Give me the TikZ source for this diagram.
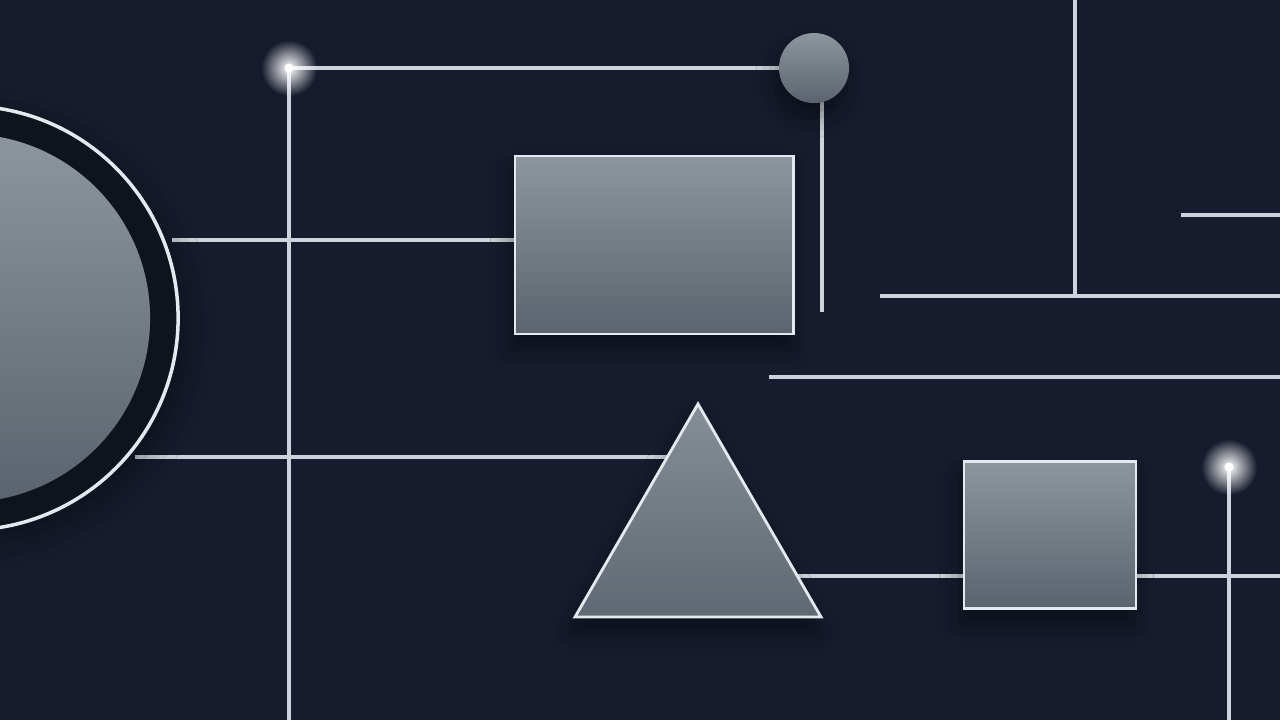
\documentclass[tikz,border=0pt]{standalone}
\usetikzlibrary{shapes.geometric, shadows.blur, fadings}
\definecolor{bgNavy}{HTML}{161C2D}
\definecolor{ringDark}{HTML}{0F131C}
\definecolor{lineGrey}{HTML}{CDD3DC}
\definecolor{shapeTop}{HTML}{8D959E}
\definecolor{shapeBot}{HTML}{5B646E}
\definecolor{edgeLight}{HTML}{E4E9EF}
\tikzfading[name=glowfade, inner color=transparent!0, outer color=transparent!100]
\tikzstyle{wire} = [draw=lineGrey, line width=1.1pt]
\tikzstyle{mPlate} = [draw=edgeLight, line width=0.8pt, top color=shapeTop, bottom color=shapeBot, inner sep=0pt, outer sep=0pt,
  blur shadow={shadow xshift=-1pt, shadow yshift=-4pt, shadow blur radius=6pt, shadow opacity=45}]
\tikzstyle{mGlow} = [white, path fading=glowfade]

\begin{document}
\begin{tikzpicture}[x=0.01cm, y=-0.01cm]
        \useasboundingbox (0,0) rectangle (1280,720);
        \clip (0,0) rectangle (1280,720);
        \fill[bgNavy] (0,0) rectangle (1280,720);

        % end points of the wires
        \coordinate (g1) at (289,68);
        \coordinate (g2) at (1229,467);
        \coordinate (a1) at (289,720);
        \coordinate (a2) at (814,68);
        \coordinate (b1) at (822,100);
        \coordinate (b2) at (822,312);
        \coordinate (c1) at (172,240);
        \coordinate (c2) at (600,240);
        \coordinate (d1) at (135,457);
        \coordinate (d2) at (700,457);
        \coordinate (e1) at (760,576);
        \coordinate (e2) at (1280,576);
        \coordinate (f1) at (1229,720);
        \coordinate (h1) at (1075,0);
        \coordinate (h2) at (1075,296);
        \coordinate (i1) at (880,296);
        \coordinate (i2) at (1280,296);
        \coordinate (j1) at (1181,215);
        \coordinate (j2) at (1280,215);
        \coordinate (k1) at (769,377);
        \coordinate (k2) at (1280,377);

        \draw[wire] (g1) -- (a1);
        \draw[wire] (g1) -- (a2);
        \draw[wire] (b1) -- (b2);
        \draw[wire] (c1) -- (c2);
        \draw[wire] (d1) -- (d2);
        \draw[wire] (e1) -- (e2);
        \draw[wire] (g2) -- (f1);
        \draw[wire] (h1) -- (h2);
        \draw[wire] (i1) -- (i2);
        \draw[wire] (j1) -- (j2);
        \draw[wire] (k1) -- (k2);

        % big disc on the left
        \fill[ringDark, blur shadow={shadow yshift=-3pt, shadow blur radius=8pt, shadow opacity=40}] (-34,318) circle (2.12cm);
        \draw[edgeLight, line width=1pt] (-34,318) circle (2.12cm);
        \shade[top color=shapeTop, bottom color=shapeBot] (-34,318) circle (1.84cm);

        % plates
        \node[mPlate, rectangle, minimum width=2.78cm, minimum height=1.78cm] (r1) at (654,245) {};
        \node[mPlate, rectangle, minimum width=1.72cm, minimum height=1.47cm] (r2) at (1050,535) {};
        \node[mPlate, circle, draw=none, minimum size=0.7cm] (knob) at (814,68) {};
        \node[mPlate, regular polygon, regular polygon sides=3, minimum size=2.84cm,
              top color=shapeTop!85!shapeBot, bottom color=shapeBot!90!shapeTop] (tri) at (698,546) {};

        % glowing points
        \fill[mGlow] (g1) circle (0.28cm);
        \fill[mGlow] (g2) circle (0.28cm);
        \fill[white] (g1) circle (0.045cm);
        \fill[white] (g2) circle (0.045cm);
\end{tikzpicture}
\end{document}
